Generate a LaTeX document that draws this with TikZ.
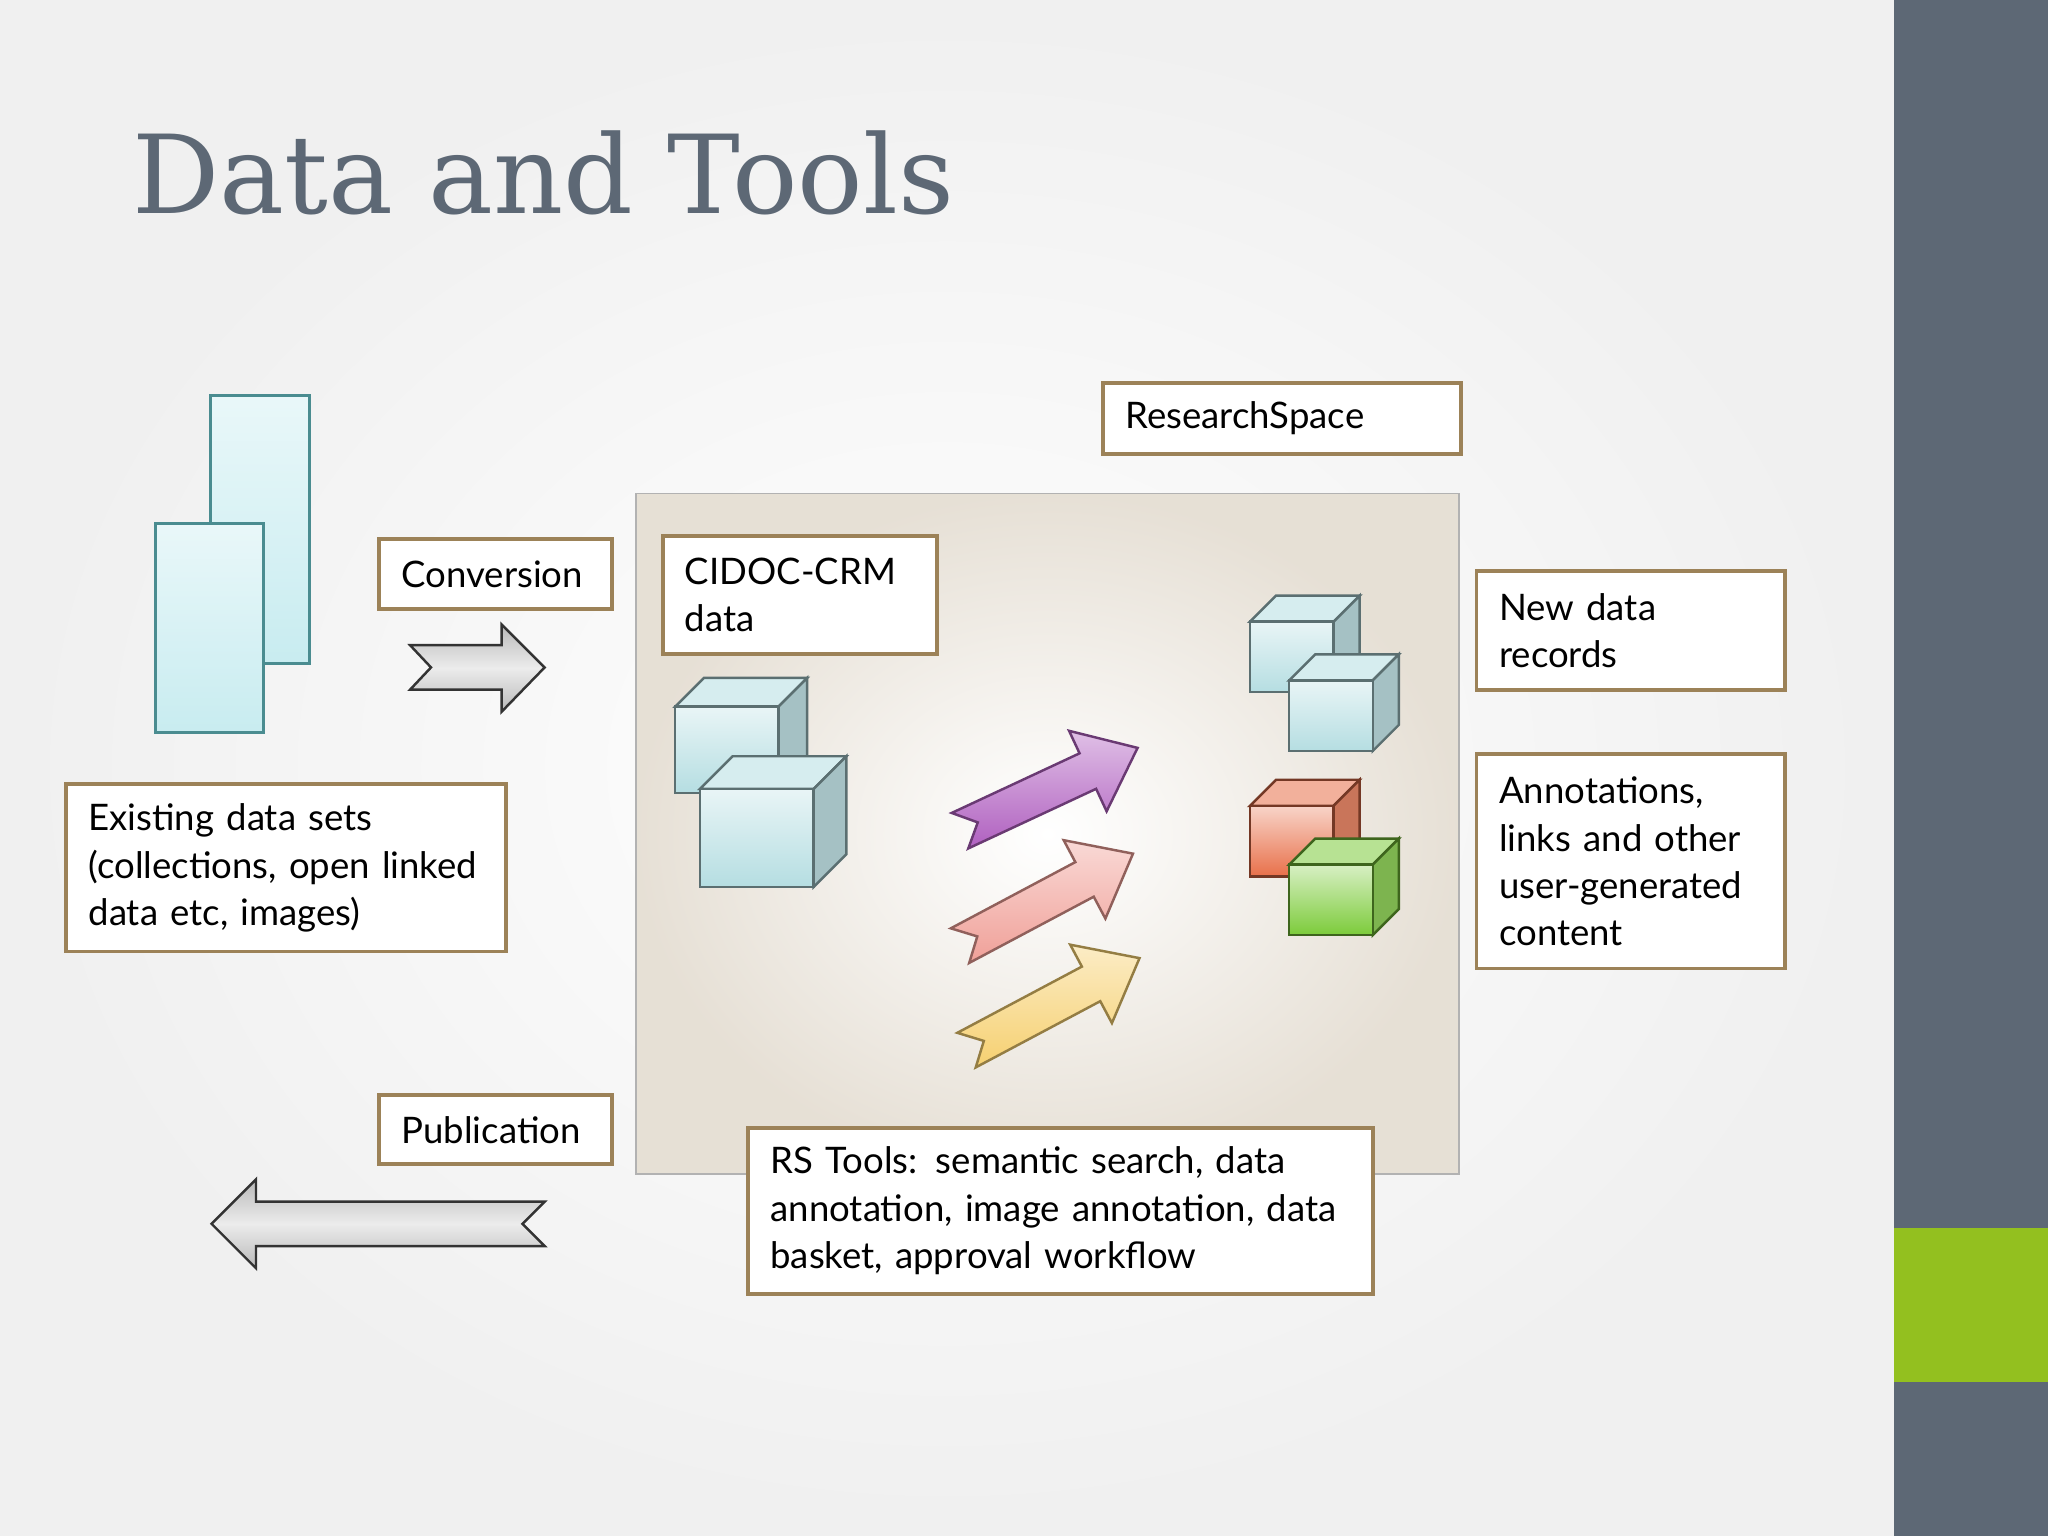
\documentclass[tikz,border=0pt]{standalone}
\usepackage{fontspec}
\setmainfont{Lato}
\newfontfamily\titlefont{DejaVu Serif}
\begin{document}
\begin{tikzpicture}[x=0.013061cm,y=-0.013061cm,
  lbl/.style n args={3}{draw=boxc,line width=1.1pt,fill=white,inner xsep=6pt,align=left,anchor=north west,font=\fontsize{10.4}{13.4}\selectfont,minimum width=#1cm,minimum height=#2cm,text width=#3cm},
  grayarrow/.style={draw=black!80,line width=0.7pt,top color=gray!55,bottom color=gray!55,middle color=gray!15}]
\definecolor{boxc}{HTML}{9C8258}
\definecolor{slate}{HTML}{5D6875}
\definecolor{lgreen}{HTML}{93C01F}
\definecolor{cyanf}{HTML}{C8ECF0}
\definecolor{cyand}{HTML}{4A8C90}
\useasboundingbox (0,0) rectangle (1568,1176);
\shade[inner color=white,outer color=gray!12] (0,0) rectangle (1450,1176);
\fill[slate] (1450,0) rectangle (1568,1176);
\fill[lgreen] (1450,940) rectangle (1568,1058);
\node[anchor=west,text=slate,font=\titlefont\fontsize{31}{36}\selectfont] (title) at (92,132) {Data and Tools};
% tall rectangles
\shade[top color=cyanf!40,bottom color=cyanf,draw=cyand,line width=0.8pt] (161,303) rectangle (237,508);
\shade[top color=cyanf!40,bottom color=cyanf,draw=cyand,line width=0.8pt] (119,401) rectangle (202,561);
% main panel
\shade[inner color=white,outer color=boxc!25,draw=gray!60] (487,378) rectangle (1117,899);
\newcommand\cubeat[6]{% x y w h d color
  \filldraw[fill=#6!55!white,draw=#6!50!black,line width=0.7pt] (#1,#2) -- ++(#5,-#5) -- ++(#3,0) -- ++(-#5,#5) -- cycle;
  \filldraw[fill=#6!70!gray,draw=#6!50!black,line width=0.7pt] (#1+#3,#2) -- ++(#5,-#5) -- ++(0,#4) -- ++(-#5,#5) -- cycle;
  \shade[top color=#6!30!white,bottom color=#6,draw=#6!50!black,line width=0.7pt] (#1,#2) rectangle ++(#3,#4);}
\colorlet{cc}{cyanf!85!cyand}
\definecolor{oc}{HTML}{E8704A}
\definecolor{gc}{HTML}{7CCB3A}
\cubeat{517}{541}{79}{66}{22}{cc}
\cubeat{536}{604}{87}{75}{25}{cc}
\cubeat{957}{476}{64}{54}{20}{cc}
\cubeat{987}{521}{64}{54}{20}{cc}
\cubeat{957}{617}{64}{54}{20}{oc}
\cubeat{987}{662}{64}{54}{20}{gc}
% colored arrows
\newcommand\bigarrow[5]{% x y angle color length
  \begin{scope}[shift={(#1,#2)},rotate=#3]
  \shade[top color=#4!40!white,bottom color=#4,draw=#4!60!black,line width=0.7pt]
   (0,-15) -- (#5-42,-15) -- (#5-42,-34) -- (#5,0) -- (#5-42,34) -- (#5-42,15) -- (0,15) -- (15,0) -- cycle;
  \end{scope}}
\definecolor{pu}{HTML}{B060C0}
\definecolor{pk}{HTML}{F0A098}
\definecolor{ye}{HTML}{F6D070}
\bigarrow{735}{636}{25}{pu}{150}
\bigarrow{735}{724}{28}{pk}{150}
\bigarrow{740}{804}{28}{ye}{150}
% gray arrows
\filldraw[grayarrow] (314,494) -- (384,494) -- (384,478) -- (417,511) -- (384,545) -- (384,528) -- (314,528) -- (330,511) -- cycle;
\filldraw[grayarrow] (417,920) -- (196,920) -- (196,903) -- (162,937) -- (196,971) -- (196,954) -- (417,954) -- (400,937) -- cycle;
% labels
\node[lbl={2.325}{0.705}{1.88}] (conv) at (289,411) {Conversion};
\node[lbl={4.402}{1.672}{3.95}] (exist) at (49,599) {Existing data sets\\(collections, open linked\\data etc, images)};
\node[lbl={3.579}{0.705}{3.13}] (rs) at (843,292) {ResearchSpace};
\node[lbl={2.743}{1.175}{2.30}] (cidoc) at (506,409) {CIDOC-CRM\\data};
\node[lbl={3.082}{1.189}{2.63}] (newd) at (1129,436) {New data\\records};
\node[lbl={3.082}{2.142}{2.63}] (ann) at (1129,576) {Annotations,\\links and other\\user-generated\\content};
\node[lbl={2.325}{0.692}{1.88}] (pub) at (289,837) {Publication};
\node[lbl={6.256}{1.659}{5.80}] (tools) at (571,862) {RS Tools: semantic search, data\\annotation, image annotation, data\\basket, approval workflow};
\end{tikzpicture}
\end{document}
